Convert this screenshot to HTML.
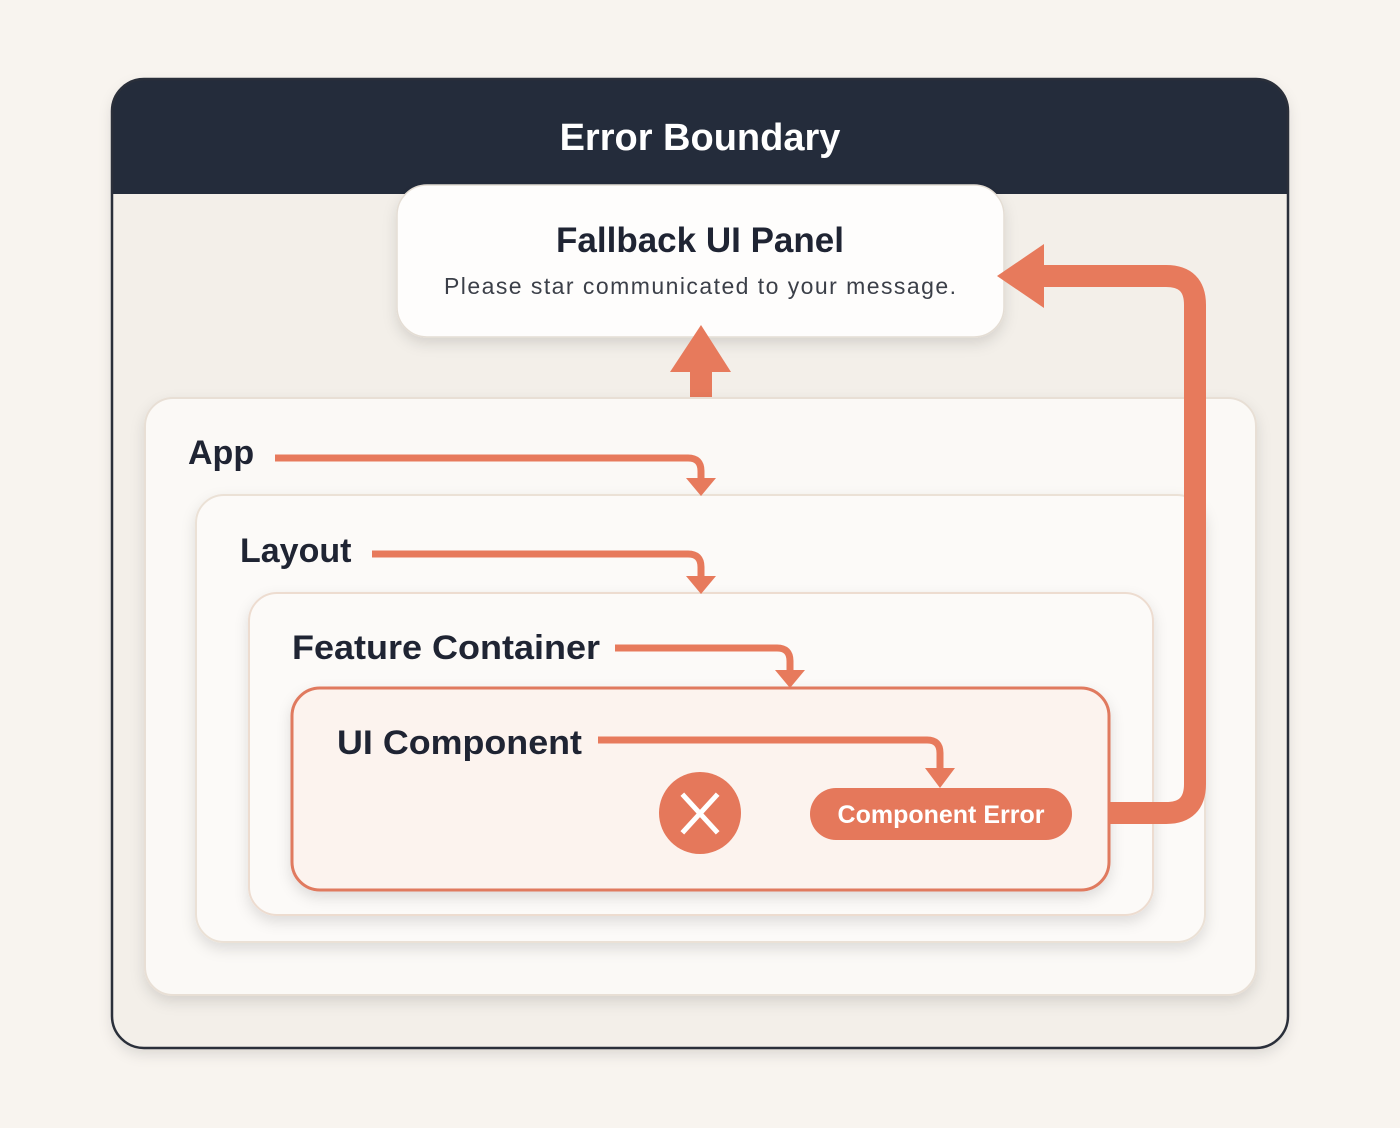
<!DOCTYPE html>
<html><head><style>
html,body{margin:0;padding:0;background:#f8f4ef;}
svg{display:block}
text{font-family:"Liberation Sans",sans-serif}
</style></head><body>
<svg width="1400" height="1128" viewBox="0 0 1400 1128" xmlns="http://www.w3.org/2000/svg">
<defs>
<filter id="sh" x="-10%" y="-10%" width="120%" height="130%"><feDropShadow dx="0" dy="6" stdDeviation="7" flood-color="#000" flood-opacity="0.12"/></filter>
<clipPath id="oc"><rect x="112" y="79" width="1176" height="969" rx="32"/></clipPath>
</defs>
<rect width="1400" height="1128" fill="#f8f4ef"/>
<g filter="url(#sh)"><rect x="112" y="79" width="1176" height="969" rx="32" fill="#f3efe9"/></g>
<g clip-path="url(#oc)"><rect x="112" y="79" width="1176" height="115" fill="#242c3b"/></g>
<rect x="112" y="79" width="1176" height="969" rx="32" fill="none" stroke="#2a2f3a" stroke-width="2.5"/>
<text x="700" y="150" text-anchor="middle" font-size="38" fill="#fff" font-weight="bold">Error Boundary</text>

<g filter="url(#sh)"><rect x="397" y="185" width="607" height="152" rx="30" fill="#fefdfc" stroke="#e4ddd4" stroke-width="1.5"/></g>
<text x="700" y="252" text-anchor="middle" font-size="35" fill="#1f2433" font-weight="bold">Fallback UI Panel</text>
<text x="700" y="294" text-anchor="middle" font-size="23" fill="#3b3f48" textLength="512" lengthAdjust="spacing">Please star communicated to your message.</text>

<rect x="690" y="368" width="22" height="32" fill="#e77a5c"/>
<polygon points="701,325 670,372 731,372" fill="#e77a5c"/>

<g filter="url(#sh)"><rect x="145" y="398" width="1111" height="597" rx="28" fill="#fbf9f6" stroke="#e8dfd5" stroke-width="2"/></g>
<g filter="url(#sh)"><rect x="196" y="495" width="1009" height="447" rx="28" fill="#fcfaf8" stroke="#ebe1d6" stroke-width="2"/></g>
<g filter="url(#sh)"><rect x="249" y="593" width="904" height="322" rx="28" fill="#fcfaf8" stroke="#eddcd0" stroke-width="2"/></g>
<g filter="url(#sh)"><rect x="292" y="688" width="817" height="202" rx="28" fill="#fcf3ee" stroke="#e07a5f" stroke-width="3"/></g>

<text x="188" y="464" font-size="34" fill="#1f2433" font-weight="bold">App</text>
<text x="240" y="562" font-size="34" fill="#1f2433" font-weight="bold">Layout</text>
<text x="292" y="659" font-size="34" fill="#1f2433" font-weight="bold" textLength="308" lengthAdjust="spacingAndGlyphs">Feature Container</text>
<text x="337" y="754" font-size="34" fill="#1f2433" font-weight="bold" textLength="245" lengthAdjust="spacingAndGlyphs">UI Component</text>

<g fill="none" stroke="#e77a5c" stroke-width="7">
<path d="M275 458 H688 Q701 458 701 471 V482"/>
<path d="M372 554 H688 Q701 554 701 567 V580"/>
<path d="M615 648 H777 Q790 648 790 661 V674"/>
<path d="M598 740 H927 Q940 740 940 753 V772"/>
</g>
<g fill="#e77a5c">
<polygon points="686,478 716,478 701,496"/>
<polygon points="686,576 716,576 701,594"/>
<polygon points="775,670 805,670 790,688"/>
<polygon points="925,768 955,768 940,788"/>
</g>

<circle cx="700" cy="813" r="41" fill="#e5785b"/>
<g stroke="#fff" stroke-width="5" stroke-linecap="square">
<line x1="684" y1="796" x2="716" y2="831"/>
<line x1="716" y1="796" x2="684" y2="831"/>
</g>

<rect x="810" y="788" width="262" height="52" rx="26" fill="#e5785b"/>
<text x="941" y="823" text-anchor="middle" font-size="25" fill="#fff" font-weight="bold">Component Error</text>

<path d="M1109 813 H1166 Q1195 813 1195 784 V305 Q1195 276 1166 276 H1040" fill="none" stroke="#e77a5c" stroke-width="22"/>
<polygon points="997,276 1044,244 1044,308" fill="#e77a5c"/>
</svg>
</body></html>
